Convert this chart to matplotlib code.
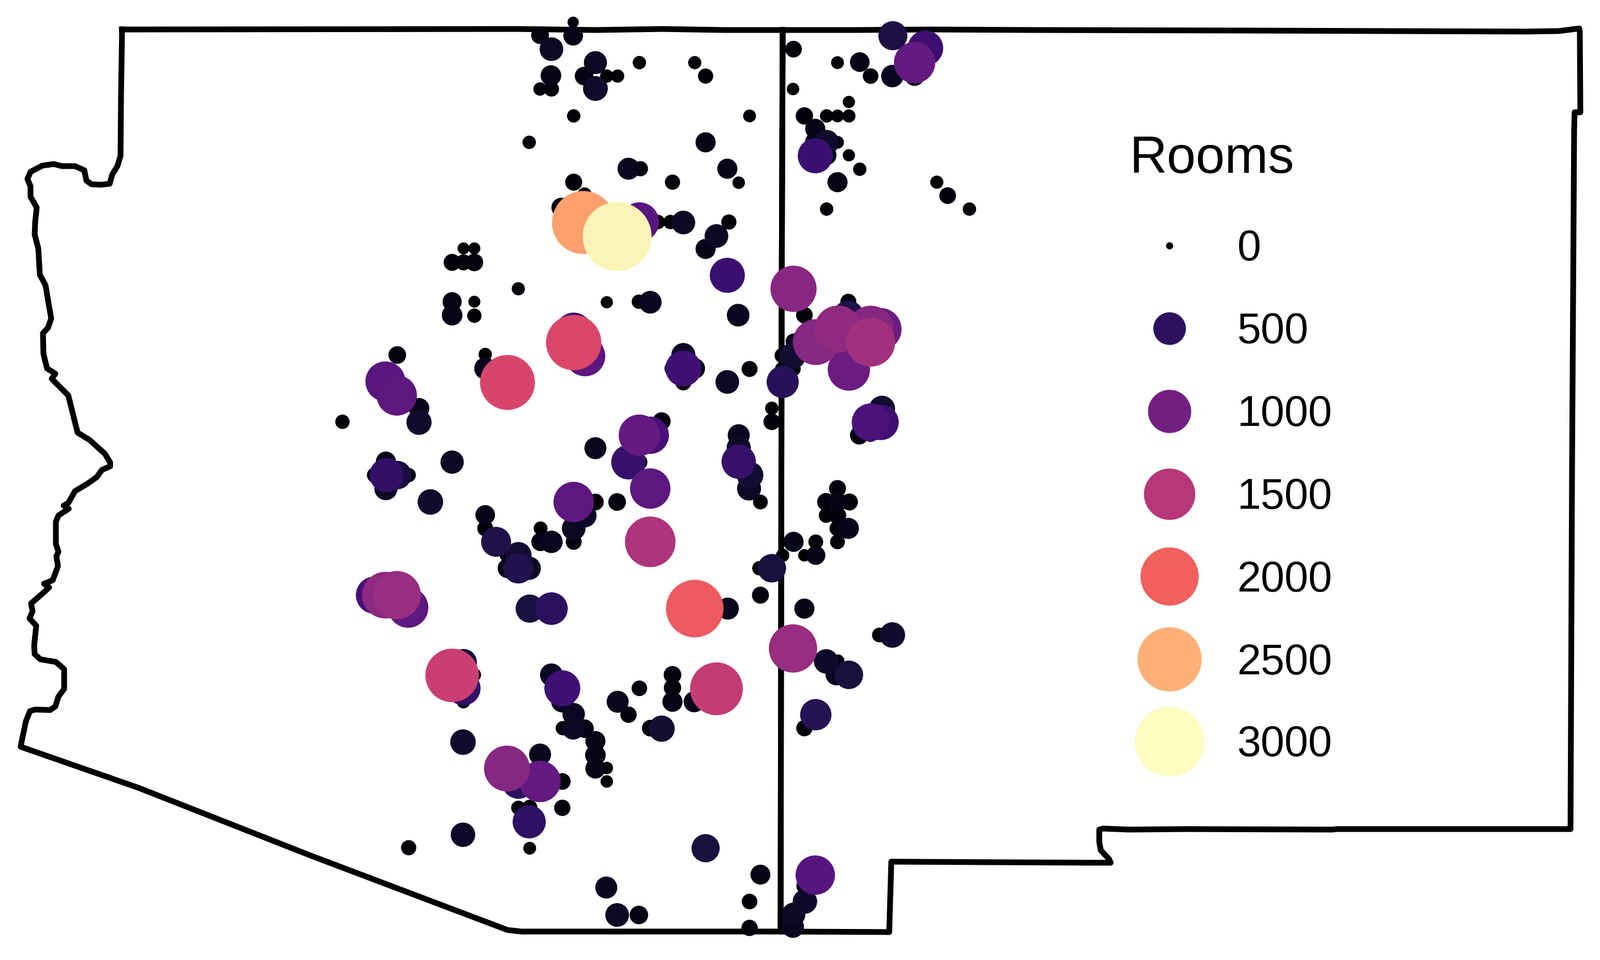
import numpy as np
import matplotlib
matplotlib.use('Agg')
import matplotlib.pyplot as plt
from matplotlib.colors import Normalize

plt.rcParams['font.family'] = ['Liberation Sans', 'DejaVu Sans']

# state outlines, map units
az_x = [236, 234, 233, 227, 217, 212, 195, 177, 167, 163, 145, 120, 104, 82, 59, 53, 59, 59, 71, 68,
        67, 74, 77, 88, 94, 99, 93, 83, 84, 91, 107, 100, 132, 140, 150, 173, 203, 213, 213, 197,
        187, 170, 145, 132, 123, 133, 113, 108, 108, 113, 109, 112, 102, 85, 95, 82, 60, 63, 57, 70,
        66, 67, 78, 108, 124, 124, 113, 107, 97, 68, 58, 50, 42, 40, 267, 600, 981, 1008, 1509, 1510, 1511, 1513,
        1400, 1280, 1150, 1000, 236]
az_y = [57, 180, 301, 321, 337, 355, 357, 356, 349, 329, 321, 321, 317, 320, 332, 346, 360, 380, 401, 429,
        453, 480, 531, 551, 587, 615, 633, 644, 684, 712, 722, 732, 764, 796, 836, 850, 877, 894, 901, 908,
        922, 934, 949, 972, 977, 983, 996, 1008, 1051, 1066, 1075, 1094, 1121, 1128, 1135, 1147, 1166, 1181, 1195, 1209,
        1248, 1264, 1274, 1279, 1293, 1331, 1346, 1365, 1372, 1371, 1374, 1394, 1432, 1443, 1522, 1653, 1797, 1800, 1800, 1200, 600, 58,
        58, 56, 58, 56, 57]
nm_x = [1513, 1650, 1800, 2000, 2400, 2950, 3013, 3053, 3054, 3055, 3044, 3043, 3039, 3036, 2584, 2575, 2290, 2182,
        2132, 2125, 2125, 2128, 2144, 2147, 2100, 1723, 1719, 1509, 1510, 1511, 1513]
nm_y = [58, 58, 57, 58, 59, 61, 60, 55, 63, 217, 217, 250, 900, 1602, 1602, 1603, 1602, 1603,
        1601, 1603, 1627, 1643, 1660, 1667, 1667, 1665, 1801, 1800, 1200, 600, 58]

# hotels
hotel_x = [1108, 1044, 1108, 1066, 1151, 1236, 1343, 1129, 1173, 1194,
           1065, 1364, 1044, 1066, 1151, 1109, 1449, 1023, 1364, 1215,
           1238, 1406, 1109, 1300, 1428, 1130, 1085, 1128, 1193, 1236,
           1272, 1296, 1321, 1409, 1385, 1364, 1406, 896, 917, 874,
           896, 917, 874, 874, 917, 917, 1002, 1173, 1235, 1257,
           1427, 1534, 1726, 1789, 1768, 1619, 1662, 1683, 1725, 1768,
           1749, 1533, 1641, 1555, 1598, 1619, 1641, 1576, 1576, 1598,
           1619, 1598, 1576, 1641, 1662, 1619, 1811, 1832, 1874, 1598,
           1534, 1640, 1640, 1555, 1620, 1577, 1683, 1702, 1683, 1641,
           1532, 1555, 1534, 1512, 1512, 1534, 1513, 1449, 1492, 1492,
           1428, 1428, 1428, 1450, 1448, 1470, 1705, 1703, 1683, 1661,
           1683, 1619, 1597, 1619, 1642, 1597, 1619, 1619, 1640, 1619,
           1534, 1577, 1513, 1555, 1577, 1468, 1492, 1470, 1555, 1700,
           1725, 1533, 1620, 1597, 1617, 1641, 1577, 1555, 1576, 1555,
           1556, 1534, 1533, 1470, 1449, 1449, 1109, 1131, 1109, 768,
           938, 938, 981, 745, 767, 810, 810, 662, 1321, 1321,
           1300, 1343, 1321, 1406, 1279, 1236, 1257, 1151, 1215, 1236,
           1257, 874, 746, 747, 768, 790, 724, 746, 832, 1109,
           1151, 1193, 938, 938, 1045, 1109, 1130, 959, 1045, 1066,
           1109, 1002, 980, 1002, 981, 1023, 1257, 1343, 1407, 1024,
           1066, 767, 745, 724, 789, 874, 896, 896, 917, 896,
           1066, 1087, 1087, 1109, 1130, 1088, 1108, 1151, 1151, 1151,
           1173, 1173, 1236, 1300, 1300, 1300, 1194, 1215, 1342, 1385,
           1279, 1257, 895, 980, 1044, 1044, 1087, 1002, 1023, 1002,
           1024, 1087, 895, 790, 1024, 1364, 1172, 1193, 1235]
hotel_y = [43, 68, 69, 95, 121, 121, 121, 147, 147, 147,
           146, 147, 172, 172, 171, 224, 224, 275, 275, 326,
           326, 326, 352, 352, 353, 376, 401, 430, 457, 429,
           429, 429, 430, 429, 456, 481, 532, 480, 480, 507,
           507, 507, 583, 609, 583, 610, 558, 584, 583, 584,
           609, 95, 69, 93, 121, 121, 120, 147, 147, 147,
           121, 172, 197, 224, 224, 224, 224, 249, 275, 275,
           275, 300, 301, 300, 327, 352, 352, 378, 404, 404,
           558, 583, 610, 609, 636, 661, 661, 636, 635, 714,
           688, 661, 660, 687, 713, 713, 738, 713, 789, 815,
           841, 865, 892, 918, 944, 970, 790, 816, 816, 841,
           841, 944, 970, 970, 970, 996, 996, 1021, 1021, 1047,
           1047, 1047, 1073, 1073, 1073, 1098, 1098, 1150, 1176, 1227,
           1227, 1253, 1277, 1278, 1303, 1304, 1381, 1407, 1691, 1712,
           1742, 1767, 1791, 1690, 1742, 1793, 662, 688, 639, 686,
           685, 712, 739, 737, 764, 789, 816, 815, 686, 712,
           712, 712, 739, 738, 814, 841, 841, 866, 893, 893,
           944, 893, 892, 918, 918, 918, 918, 944, 970, 970,
           970, 970, 995, 1021, 1021, 1021, 996, 1047, 1047, 1047,
           1047, 1073, 1073, 1098, 1098, 1098, 1047, 1176, 1176, 1176,
           1176, 1150, 1150, 1150, 1174, 1305, 1280, 1330, 1304, 1356,
           1304, 1330, 1355, 1380, 1408, 1407, 1407, 1432, 1459, 1485,
           1484, 1510, 1330, 1304, 1329, 1356, 1356, 1381, 1356, 1331,
           1408, 1407, 1434, 1485, 1458, 1510, 1510, 1512, 1588, 1561,
           1560, 1561, 1613, 1638, 1639, 1639, 1715, 1768, 1768]
hotel_rooms = [13, 87, 121, 210, 195, 30, 28, 100, 30, 28,
               140, 50, 30, 50, 240, 30, 25, 30, 130, 170,
               50, 130, 75, 50, 22, 40, 121, 2400, 2930, 800,
               40, 40, 210, 50, 210, 130, 600, 18, 18, 75,
               60, 85, 110, 140, 18, 40, 28, 20, 40, 185,
               185, 70, 370, 620, 900, 25, 120, 55, 180, 120,
               120, 22, 20, 80, 30, 25, 28, 130, 140, 240,
               25, 120, 600, 20, 30, 130, 28, 70, 30, 30,
               1170, 60, 420, 70, 1230, 1150, 1350, 950, 1150, 950,
               280, 300, 60, 50, 40, 40, 480, 60, 30, 70,
               170, 220, 570, 290, 220, 45, 280, 620, 720, 100,
               30, 75, 90, 110, 75, 45, 80, 60, 150, 45,
               130, 45, 30, 22, 110, 40, 350, 75, 130, 45,
               260, 1300, 25, 230, 170, 350, 450, 65, 800, 60,
               230, 210, 170, 125, 55, 65, 1780, 850, 650, 85,
               30, 170, 1750, 830, 850, 140, 250, 40, 220, 640,
               60, 140, 60, 210, 90, 900, 700, 170, 580, 60,
               850, 200, 130, 550, 350, 40, 50, 200, 260, 850,
               70, 85, 120, 60, 35, 210, 220, 400, 100, 180,
               60, 290, 40, 420, 120, 200, 1450, 1950, 170, 340,
               500, 1300, 1200, 700, 850, 1650, 300, 560, 30, 30,
               190, 640, 180, 180, 100, 40, 190, 130, 140, 130,
               22, 22, 55, 85, 80, 130, 170, 65, 150, 1600,
               280, 70, 260, 1150, 170, 900, 70, 500, 520, 40,
               50, 65, 230, 50, 25, 340, 170, 210, 100]

legend_rooms = [0, 500, 1000, 1500, 2000, 2500, 3000]
legend_labels = ['0', '500', '1000', '1500', '2000', '2500', '3000']
legend_y = [475, 635, 795, 955, 1114, 1274, 1433]

norm = Normalize(0, 3000)


def marker_area(rooms):
    # size grows with sqrt(rooms), diameter 13.8px at 0 -> 134.6px at 3000
    d = 13.8 + 2.205 * np.sqrt(np.asarray(rooms, dtype=float))
    return (d * 72 / 200) ** 2


fig = plt.figure(figsize=(15.465, 9.275), dpi=200)
ax = fig.add_axes([0, 0, 1, 1])
ax.set_xlim(0, 3093)
ax.set_ylim(1855, 0)
ax.axis('off')

ax.plot(az_x, az_y, color='black', lw=4.0, solid_joinstyle='round', zorder=1)
ax.plot(nm_x, nm_y, color='black', lw=4.0, solid_joinstyle='round', zorder=1)

# smaller hotels go underneath
order = np.argsort(hotel_rooms, kind='stable')
ax.scatter(np.array(hotel_x)[order], np.array(hotel_y)[order],
           s=marker_area(np.array(hotel_rooms)[order]), c=np.array(hotel_rooms)[order],
           cmap='magma', norm=norm, linewidths=0, zorder=2)

# legend
ax.scatter([2261] * len(legend_rooms), legend_y, s=marker_area(legend_rooms), c=legend_rooms,
           cmap='magma', norm=norm, linewidths=0, zorder=2)
for lab, y in zip(legend_labels, legend_y):
    ax.text(2392, y - 2, lab, fontsize=29.8, ha='left', va='center_baseline', color='black')
ax.text(2184, 334, 'Rooms', fontsize=36.2, ha='left', va='baseline', color='black')

fig.savefig('out.png', dpi=200)
